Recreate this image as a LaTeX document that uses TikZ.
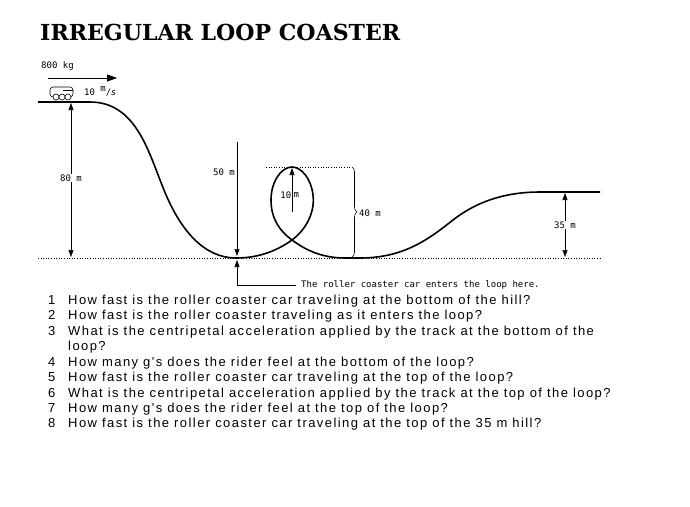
\documentclass[tikz,border=0pt]{standalone}
\usepackage{fontspec}
\setmainfont{Liberation Sans}
\newfontfamily\titlefont{DejaVu Serif}
\newfontfamily\lblfont{DejaVu Sans Mono}
\newfontfamily\qfont[LetterSpace=11]{Liberation Sans}
\usetikzlibrary{arrows.meta,decorations.pathreplacing}
\begin{document}
\begin{tikzpicture}[x=1pt,y=-1pt,
  lbl/.style={font=\lblfont\fontsize{9}{10}\selectfont,inner sep=1pt},
  dim/.style={-{Triangle[length=7pt,width=5pt]},line width=0.6pt},
  trk/.style={line width=1.6pt},
  dot/.style={dotted,line width=0.6pt},
  q/.style={anchor=base west,font={\qfont\fontsize{13}{14}\selectfont},inner sep=0pt}]
\useasboundingbox (0,0) rectangle (690,506);
\node[anchor=west,inner sep=0pt] (title) at (40,32) {\resizebox{360pt}{!}{\titlefont\bfseries IRREGULAR LOOP COASTER}};
\node[lbl,anchor=west] (kg) at (40,66) {800 kg};
\coordinate (va) at (48,78); \coordinate (vb) at (117,78);
\draw[-{Triangle[length=10pt,width=7pt]},line width=0.8pt] (va) -- (vb);
% car
\draw[line width=0.6pt,rounded corners=3pt] (50,87) rectangle (73,97);
\draw[line width=0.6pt] (63,90) -- (73,90);
\draw[line width=0.6pt,fill=white] (56,97) circle (3pt) (62,97) circle (3pt) (68,97) circle (3pt);
\node[lbl,anchor=base west] (v) at (83,95) {10 \raisebox{4pt}{m}/\kern-0.5pt\textit{s}};
% track
\draw[trk] (38,102) -- (90,102) .. controls (135,102) and (148,150) .. (162,185)
 .. controls (180,232) and (205,258) .. (236,258)
 .. controls (260,258) and (278,250) .. (292,240)
 .. controls (308,228) and (315,210) .. (313,195)
 .. controls (311,178) and (301,167) .. (292,167)
 .. controls (281,167) and (271,182) .. (271,200)
 .. controls (271,220) and (281,232) .. (292,240)
 .. controls (308,252) and (325,258) .. (345,258) -- (360,258)
 .. controls (405,258) and (430,238) .. (453,220)
 .. controls (480,199) and (510,192) .. (540,192) -- (600,192);
% dotted
\draw[dot] (38,258) -- (600,258);
\draw[dot] (266,167) -- (350,167);
% 80 m
\coordinate (a80) at (71,178);
\draw[dim] (a80) -- (71,103);
\draw[dim] (a80) -- (71,257);
\node[lbl,fill=white] (l80) at (a80) {80 m};
% 50 m
\coordinate (t50) at (237,142);
\draw[dim] (t50) -- (237,256);
\node[lbl,anchor=east] (l50) at (236,172) {50 m};
\coordinate (c50) at (237,285);
\draw[dim] (c50) -- (237,260);
\coordinate (e50) at (296,285);
\draw[line width=0.6pt] (c50) -- (e50);
\node[lbl,anchor=west] (enter) at (300,285) {The roller coaster car enters the loop here.};
% 10 m
\coordinate (b10) at (292,212);
\draw[dim] (b10) -- (292,168);
\node[lbl,anchor=east,inner sep=0.5pt] (l10a) at (292,195) {10};
\node[lbl,anchor=west,inner sep=1.5pt] (l10b) at (292,195) {m};
% 40 m brace
\coordinate (bt) at (352,167); \coordinate (bb) at (352,257);
\draw[line width=0.6pt,decorate,decoration={brace,amplitude=5pt}] (bt) -- (bb);
\node[lbl,anchor=west] (l40) at (358,213) {40 m};
% 35 m
\coordinate (a35) at (565,225);
\draw[dim] (a35) -- (565,193);
\draw[dim] (a35) -- (565,257);
\node[lbl,fill=white] (l35) at (a35) {35 m};
% questions
\foreach \n/\y/\t in {1/304/How fast is the roller coaster car traveling at the bottom of the hill?,
 2/319/How fast is the roller coaster traveling as it enters the loop?,
 3/335/What is the centripetal acceleration applied by the track at the bottom of the,
 4/366/How many g's does the rider feel at the bottom of the loop?,
 5/381/How fast is the roller coaster car traveling at the top of the loop?,
 6/397/What is the centripetal acceleration applied by the track at the top of the loop?,
 7/412/How many g's does the rider feel at the top of the loop?,
 8/427/How fast is the roller coaster car traveling at the top of the 35 m hill?}{
 \node[q] (n\n) at (48,\y) {\n};
 \node[q] (t\n) at (68,\y) {\t};
}
\node[q] (t3b) at (68,350) {loop?};
\end{tikzpicture}
\end{document}
